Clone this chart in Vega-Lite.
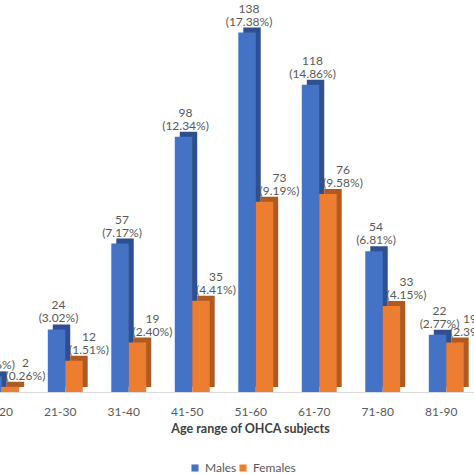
{
  "$schema": "https://vega.github.io/schema/vega-lite/v6.json",
  "width": 474,
  "height": 392,
  "padding": {"left": 0, "top": 0, "right": 0, "bottom": 82},
  "autosize": "none",
  "background": "white",
  "config": {
    "font": "Lato",
    "view": {"stroke": null}
  },
  "data": {
    "values": [
      {"age": "11-20", "sex": "Males", "n": 6, "pct": 0.76},
      {"age": "11-20", "sex": "Females", "n": 2, "pct": 0.26},
      {"age": "21-30", "sex": "Males", "n": 24, "pct": 3.02},
      {"age": "21-30", "sex": "Females", "n": 12, "pct": 1.51},
      {"age": "31-40", "sex": "Males", "n": 57, "pct": 7.17},
      {"age": "31-40", "sex": "Females", "n": 19, "pct": 2.40},
      {"age": "41-50", "sex": "Males", "n": 98, "pct": 12.34},
      {"age": "41-50", "sex": "Females", "n": 35, "pct": 4.41},
      {"age": "51-60", "sex": "Males", "n": 138, "pct": 17.38},
      {"age": "51-60", "sex": "Females", "n": 73, "pct": 9.19},
      {"age": "61-70", "sex": "Males", "n": 118, "pct": 14.86},
      {"age": "61-70", "sex": "Females", "n": 76, "pct": 9.58},
      {"age": "71-80", "sex": "Males", "n": 54, "pct": 6.81},
      {"age": "71-80", "sex": "Females", "n": 33, "pct": 4.15},
      {"age": "81-90", "sex": "Males", "n": 22, "pct": 2.77},
      {"age": "81-90", "sex": "Females", "n": 19, "pct": 2.39}
    ]
  },
  "transform": [
    {"calculate": "'(' + format(datum.pct, '.2f') + '%)'", "as": "pctLabel"}
  ],
  "encoding": {
    "x": {
      "field": "age",
      "type": "nominal",
      "sort": null,
      "scale": {"range": [-30, 478], "paddingInner": 0.45, "paddingOuter": 0.225},
      "axis": {
        "title": "Age range of OHCA subjects",
        "titleFontWeight": "bold",
        "titleFontSize": 12.5,
        "titleColor": "#404040",
        "titleX": 250,
        "titleAlign": "center",
        "titlePadding": 5,
        "labelAngle": 0,
        "labelFontSize": 12,
        "labelColor": "#595959",
        "labelOffset": -5,
        "labelPadding": 14,
        "ticks": false,
        "domainColor": "#d9d9d9"
      }
    },
    "y": {
      "field": "n",
      "type": "quantitative",
      "scale": {"domain": [0, 150.5]},
      "axis": null
    }
  },
  "layer": [
    {
      "mark": {"type": "bar", "yOffset": -5},
      "encoding": {
        "xOffset": {"field": "sex", "type": "nominal", "sort": ["Males", "Females"], "scale": {"range": [5, 39.9], "paddingInner": 0, "paddingOuter": 0}},
        "color": {
          "field": "sex",
          "type": "nominal",
          "sort": ["Males", "Females"],
          "scale": {"domain": ["Males", "Females"], "range": ["#2f4f8f", "#ae5a21"]},
          "legend": null
        }
      }
    },
    {
      "encoding": {
        "xOffset": {"field": "sex", "type": "nominal", "sort": ["Males", "Females"], "scale": {"paddingInner": 0, "paddingOuter": 0}}
      },
      "layer": [
        {
          "mark": {"type": "bar"},
          "encoding": {
            "fill": {
              "field": "sex",
              "type": "nominal",
              "sort": ["Males", "Females"],
              "scale": {"domain": ["Males", "Females"], "range": ["#4472c4", "#ed7d31"]},
              "legend": {
                "title": null,
                "orient": "none",
                "direction": "horizontal",
                "legendX": 189,
                "legendY": 462,
                "symbolType": "square",
                "symbolSize": 50,
                "labelFontSize": 12,
                "labelColor": "#595959",
                "columnPadding": 0
              }
            }
          }
        },
        {
          "transform": [{"filter": "datum.sex == 'Males'"}],
          "mark": {"type": "text", "dy": -24, "dx": 2, "fontSize": 12, "color": "#595959"},
          "encoding": {"text": {"field": "n"}}
        },
        {
          "transform": [{"filter": "datum.sex == 'Males'"}],
          "mark": {"type": "text", "dy": -11, "dx": 2, "fontSize": 12, "color": "#595959"},
          "encoding": {"text": {"field": "pctLabel"}}
        },
        {
          "transform": [{"filter": "datum.sex == 'Females'"}],
          "mark": {"type": "text", "dy": -24, "dx": 15, "fontSize": 12, "color": "#595959"},
          "encoding": {"text": {"field": "n"}}
        },
        {
          "transform": [{"filter": "datum.sex == 'Females'"}],
          "mark": {"type": "text", "dy": -11, "dx": 15, "fontSize": 12, "color": "#595959"},
          "encoding": {"text": {"field": "pctLabel"}}
        }
      ]
    }
  ],
  "resolve": {"scale": {"color": "independent", "fill": "independent", "xOffset": "independent"}}
}
